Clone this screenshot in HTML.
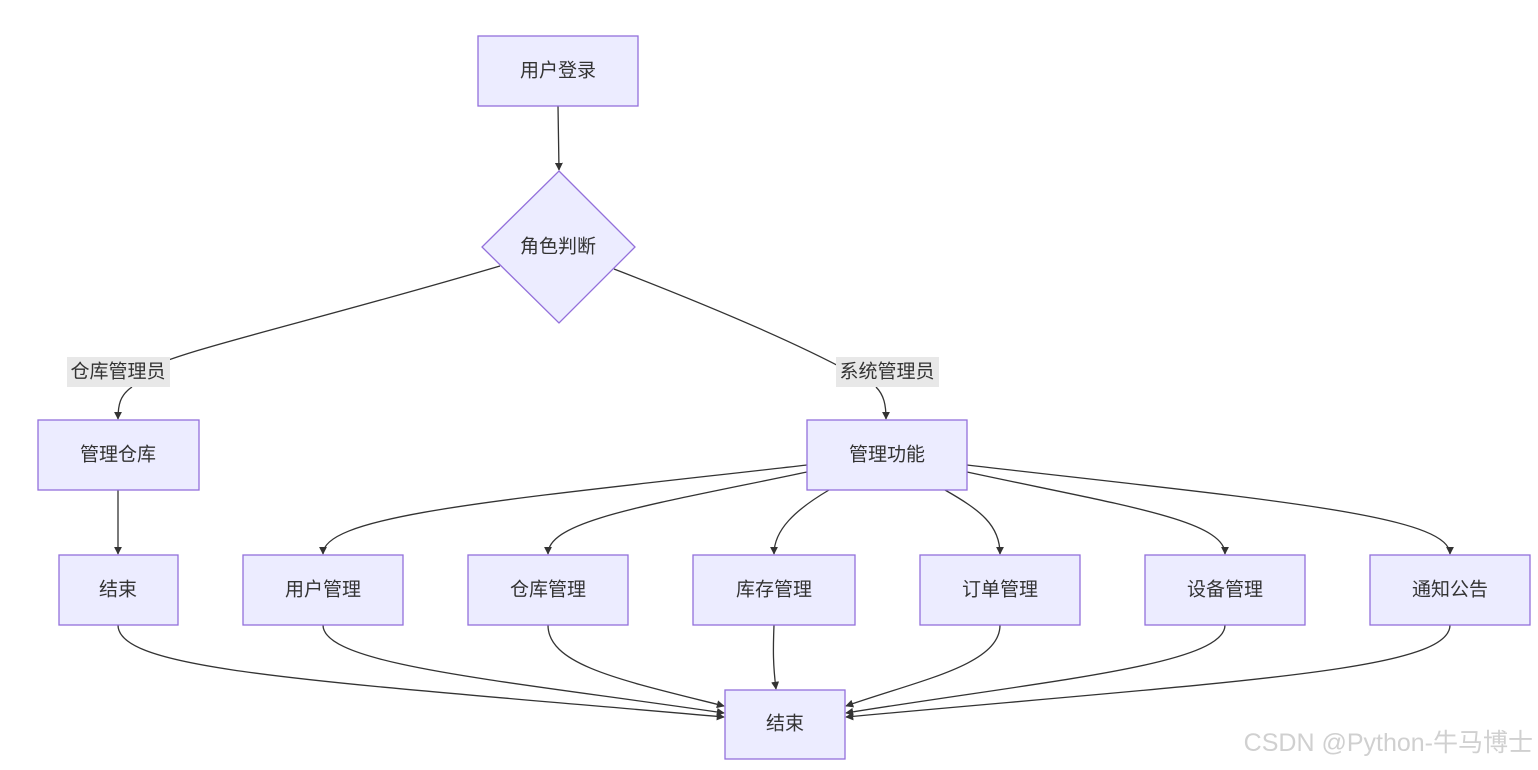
<!DOCTYPE html>
<html><head><meta charset="utf-8"><style>
html,body{margin:0;padding:0;background:#fff;}
svg{display:block;}
text{font-family:"Liberation Sans","Noto Sans CJK SC",sans-serif;font-size:19px;fill:#333;}
</style></head><body>
<svg width="1538" height="770" viewBox="0 0 1538 770" xmlns="http://www.w3.org/2000/svg">
<defs>
<marker id="a" viewBox="0 0 10 10" refX="9" refY="5" markerWidth="8" markerHeight="8" orient="auto-start-reverse" markerUnits="userSpaceOnUse"><path d="M0,0 L10,5 L0,10 z" fill="#333"/></marker>
</defs>
<g fill="none" stroke="#333" stroke-width="1.3">
<path d="M558,106 L559,170" marker-end="url(#a)"/>
<path d="M500,266 C300,325 180,350 140,372"/>
<path d="M132,387 C120,395 118,405 118,419" marker-end="url(#a)"/>
<path d="M614,269 C720,310 800,345 850,372"/>
<path d="M876,387 C884,395 886,405 886,419" marker-end="url(#a)"/>
<path d="M118,490 L118,554" marker-end="url(#a)"/>
<path d="M807,465 C500,500 323,515 323,554" marker-end="url(#a)"/>
<path d="M807,472 C650,505 548,520 548,554" marker-end="url(#a)"/>
<path d="M829,490 C795,510 774,530 774,554" marker-end="url(#a)"/>
<path d="M945,490 C980,510 1000,525 1000,554" marker-end="url(#a)"/>
<path d="M967,472 C1120,505 1225,520 1225,554" marker-end="url(#a)"/>
<path d="M967,465 C1270,500 1450,515 1450,554" marker-end="url(#a)"/>
<path d="M118,625 C118,670 300,680 724,717" marker-end="url(#a)"/>
<path d="M323,625 C323,665 500,680 724,713" marker-end="url(#a)"/>
<path d="M548,625 C548,665 620,680 724,706" marker-end="url(#a)"/>
<path d="M774,625 C773,650 773,665 776,689" marker-end="url(#a)"/>
<path d="M1000,625 C1000,665 920,680 846,706" marker-end="url(#a)"/>
<path d="M1225,625 C1225,665 1050,680 846,713" marker-end="url(#a)"/>
<path d="M1450,625 C1450,670 1250,680 846,717" marker-end="url(#a)"/>
</g>
<g fill="#ececff" stroke="#9370db" stroke-width="1.3">
<rect x="478" y="36" width="160" height="70"/>
<polygon points="559,171 635,247 559,323 482,247"/>
<rect x="38" y="420" width="161" height="70"/>
<rect x="807" y="420" width="160" height="70"/>
<rect x="59" y="555" width="119" height="70"/>
<rect x="243" y="555" width="160" height="70"/>
<rect x="468" y="555" width="160" height="70"/>
<rect x="693" y="555" width="162" height="70"/>
<rect x="920" y="555" width="160" height="70"/>
<rect x="1145" y="555" width="160" height="70"/>
<rect x="1370" y="555" width="160" height="70"/>
<rect x="725" y="690" width="120" height="69"/>
</g>
<rect x="67" y="357" width="103" height="30" fill="#e8e8e8"/>
<rect x="836" y="357" width="103" height="30" fill="#e8e8e8"/>
<g text-anchor="middle" dominant-baseline="central">
<text x="558" y="71">用户登录</text>
<text x="558" y="247">角色判断</text>
<text x="118" y="372">仓库管理员</text>
<text x="887" y="372">系统管理员</text>
<text x="118" y="455">管理仓库</text>
<text x="887" y="455">管理功能</text>
<text x="118" y="590">结束</text>
<text x="323" y="590">用户管理</text>
<text x="548" y="590">仓库管理</text>
<text x="774" y="590">库存管理</text>
<text x="1000" y="590">订单管理</text>
<text x="1225" y="590">设备管理</text>
<text x="1450" y="590">通知公告</text>
<text x="785" y="724">结束</text>
</g>
<text x="1533" y="743" text-anchor="end" dominant-baseline="central" style="font-size:25px;fill:#d0d0d0">CSDN @Python-牛马博士</text>
</svg>
</body></html>
